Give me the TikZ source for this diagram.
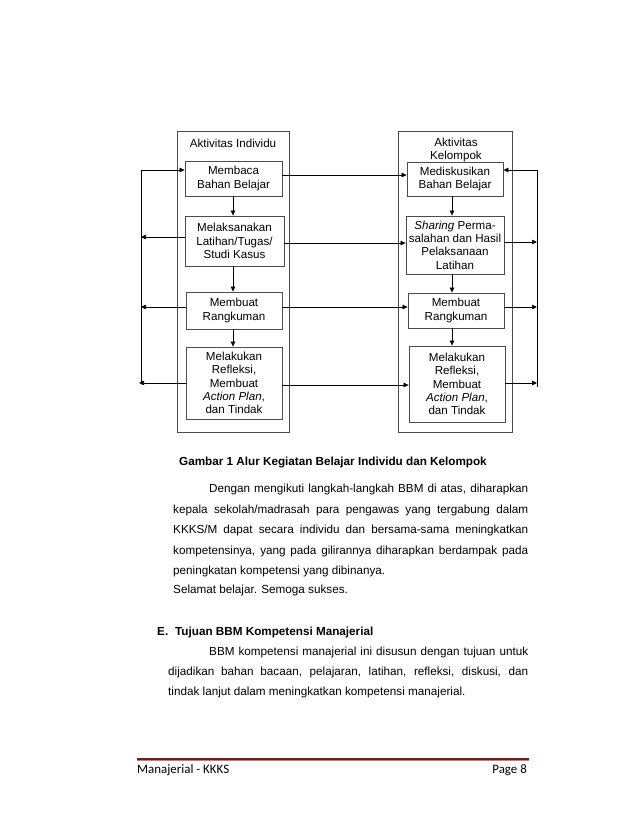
\documentclass[tikz,border=0pt]{standalone}
\usepackage{fontspec}
\setmainfont{Liberation Sans}
\newfontfamily\footfont{Carlito}
\usetikzlibrary{arrows.meta,calc}
\definecolor{boxgray}{gray}{0.3}
\definecolor{footred}{RGB}{122,28,28}
\begin{document}
\begin{tikzpicture}[x=1pt,y=-1pt,
  every node/.style={font=\fontsize{11.6}{13.3}\selectfont},
  box/.style={draw=boxgray, line width=0.8pt, align=center, inner sep=1pt},
  outerbox/.style={draw=boxgray, line width=0.8pt},
  arr/.style={line width=0.7pt, -{Triangle[length=5pt,width=4.5pt]}},
  ln/.style={line width=0.7pt},
  txt/.style={anchor=mid west, inner sep=0pt, font=\fontsize{11.7}{14}\selectfont},
  btxt/.style={txt, font=\fontsize{11.7}{14}\selectfont\bfseries},
  foot/.style={inner sep=0pt, font=\footfont\fontsize{12.9}{14}\selectfont}
]
\useasboundingbox (0,0) rectangle (638,826);

% outer boxes
\node[outerbox, minimum width=112, minimum height=301] (Lout) at (233,281.5) {};
\node[outerbox, minimum width=114, minimum height=301] (Rout) at (455,281.5) {};
\node[inner sep=0pt] (Ltitle) at (233,143) {Aktivitas Individu};
\node[inner sep=0pt, align=center] (Rtitle) at (456,150) {Aktivitas\\Kelompok};

% left boxes
\node[box, minimum width=97, minimum height=35] (L1) at (233.5,178.5) {Membaca\\Bahan Belajar};
\node[box, minimum width=99, minimum height=50] (L2) at (234.5,241) {Melaksanakan\\Latihan/Tugas/\\Studi Kasus};
\node[box, minimum width=96, minimum height=37] (L3) at (234,310.5) {Membuat\\Rangkuman};
\node[box, minimum width=96, minimum height=72] (L4) at (234,383) {Melakukan\\Refleksi,\\Membuat\\\textit{Action Plan},\\dan Tindak};

% right boxes
\node[box, minimum width=96, minimum height=34] (R1) at (455,179) {Mediskusikan\\Bahan Belajar};
\node[box, minimum width=98, minimum height=58] (R2) at (455,245) {\textit{Sharing} Perma-\\salahan dan Hasil\\Pelaksanaan\\Latihan};
\node[box, minimum width=96, minimum height=35] (R3) at (456,310.5) {Membuat\\Rangkuman};
\node[box, minimum width=96, minimum height=76] (R4) at (457,384) {Melakukan\\Refleksi,\\Membuat\\\textit{Action Plan},\\dan Tindak};

% level coordinates
\coordinate (c1) at (0,175);
\coordinate (c2) at (0,243);
\coordinate (c3) at (0,307);
\coordinate (c4) at (0,385);
\coordinate (FLt) at (141,170);
\coordinate (FLb) at (141,383);
\coordinate (l2) at (0,237);
\coordinate (l3) at (0,307);
\coordinate (FRt) at (537,170);
\coordinate (FRb) at (537,387);
\coordinate (r2) at (0,242);
\coordinate (r3) at (0,307);
\coordinate (r4) at (0,383);
\coordinate (dL) at (233,0);
\coordinate (dR) at (452,0);

% down arrows
\draw[arr] (dL |- L1.south) -- (dL |- L2.north);
\draw[arr] (dL |- L2.south) -- (dL |- L3.north);
\draw[arr] (dL |- L3.south) -- (dL |- L4.north);
\draw[arr] (dR |- R1.south) -- (dR |- R2.north);
\draw[arr] (dR |- R2.south) -- (dR |- R3.north);
\draw[arr] (dR |- R3.south) -- (dR |- R4.north);

% cross arrows
\draw[arr] (L1.east |- c1) -- (R1.west |- c1);
\draw[arr] (L2.east |- c2) -- (R2.west |- c2);
\draw[arr] (L3.east |- c3) -- (R3.west |- c3);
\draw[arr] (L4.east |- c4) -- (R4.west |- c4);

% left feedback
\draw[ln] (FLt) -- (FLb);
\draw[arr] (FLt) -- (L1.west |- FLt);
\draw[arr] (L2.west |- l2) -- (FLt |- l2);
\draw[arr] (L3.west |- l3) -- (FLt |- l3);
\draw[arr] (L4.west |- FLb) -- ([xshift=-2pt]FLb);

% right feedback
\draw[ln] (FRt) -- (FRb);
\draw[arr] (FRt) -- (R1.east |- FRt);
\draw[arr] (R2.east |- r2) -- (FRt |- r2);
\draw[arr] (R3.east |- r3) -- (FRt |- r3);
\draw[arr] (R4.east |- r4) -- (FRt |- r4);

% caption and text
\node[btxt] (cap) at (179,463) {Gambar 1 Alur Kegiatan Belajar Individu dan Kelompok};
\node[txt] (p1) at (209,490) {\makebox[319pt][s]{Dengan mengikuti langkah-langkah BBM di atas, diharapkan}};
\node[txt] (p2) at (173,511) {\makebox[355pt][s]{kepala sekolah/madrasah para pengawas yang tergabung dalam}};
\node[txt] (p3) at (173,531) {\makebox[355pt][s]{KKKS/M dapat secara individu dan bersama-sama meningkatkan}};
\node[txt] (p4) at (173,552) {\makebox[355pt][s]{kompetensinya, yang pada gilirannya diharapkan berdampak pada}};
\node[txt] (p5) at (173,572) {peningkatan kompetensi yang dibinanya.};
\node[txt] (p6) at (173,591) {Selamat belajar. Semoga sukses.};

\node[btxt] (hE) at (157,633) {E.};
\node[btxt] (hT) at (175,633) {Tujuan BBM Kompetensi Manajerial};
\node[txt] (q1) at (209,653) {\makebox[319pt][s]{BBM kompetensi manajerial ini disusun dengan tujuan untuk}};
\node[txt] (q2) at (168,673) {\makebox[360pt][s]{dijadikan bahan bacaan, pelajaran, latihan, refleksi, diskusi, dan}};
\node[txt] (q3) at (168,693) {tindak lanjut dalam meningkatkan kompetensi manajerial.};

% footer
\coordinate (fa) at (137,759);
\coordinate (fb) at (529,759);
\draw[footred!55, line width=1.2pt] ([yshift=-1.8pt]fa) -- ([yshift=-1.8pt]fb);
\draw[footred, line width=2.4pt] (fa) -- (fb);
\node[foot, anchor=mid west] (fl) at (137,771) {Manajerial - KKKS};
\node[foot, anchor=mid east] (fr) at (527,771) {Page 8};
\end{tikzpicture}
\end{document}
